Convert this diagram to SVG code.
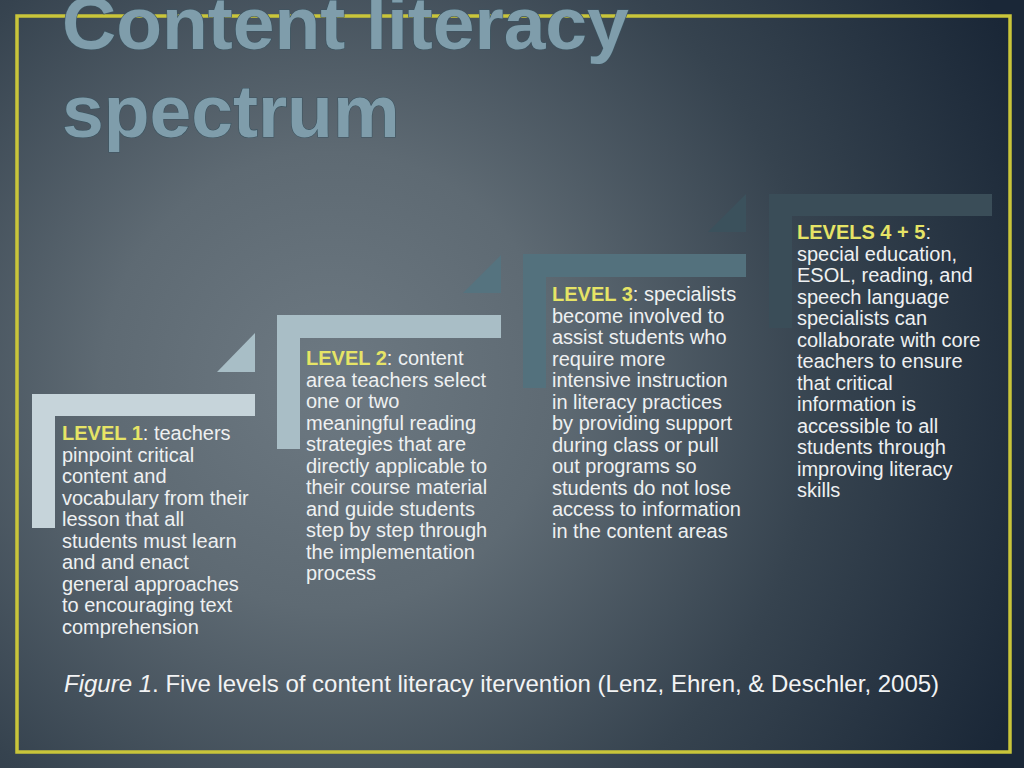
<svg xmlns="http://www.w3.org/2000/svg" width="1024" height="768" viewBox="0 0 1024 768">
  <defs>
    <radialGradient id="bg" gradientUnits="userSpaceOnUse" cx="330" cy="380" r="760">
      <stop offset="0" stop-color="#6d7982"/>
      <stop offset="0.3" stop-color="#5e6a73"/>
      <stop offset="0.65" stop-color="#36434f"/>
      <stop offset="1" stop-color="#1a2737"/>
    </radialGradient>
    <style>
      .title { font-family: "Liberation Sans", Arial, sans-serif; font-weight: bold; font-size: 75px; fill: #7f9dab; stroke: #3d5561; stroke-width: 1.2; paint-order: stroke; }
      .body { font-family: "Liberation Sans", Arial, sans-serif; font-size: 20px; fill: #eef0f1; }
      .lvl { fill: #e6e466; font-weight: bold; }
      .cap { font-family: "Liberation Sans", Arial, sans-serif; font-size: 24px; fill: #f2f3f4; }
      .border { fill: none; stroke: #c9c53a; stroke-width: 3.5; }
    </style>
  </defs>

  <rect x="0" y="0" width="1024" height="768" fill="url(#bg)"/>
  <rect class="border" x="17" y="16" width="993" height="736"/>

  <g id="title">
    <text class="title" x="62" y="49">Content literacy</text>
    <text class="title" x="62" y="137">spectrum</text>
  </g>

  <g id="level1">
    <polygon points="217,372 255,333 255,372" fill="#a8bec6"/>
    <path d="M32,394 H255 V416 H55 V528 H32 Z" fill="#c6d4da"/>
    <text class="body" x="62" y="440">
      <tspan class="lvl">LEVEL 1</tspan>: teachers
      <tspan x="62" dy="21.5">pinpoint critical</tspan>
      <tspan x="62" dy="21.5">content and</tspan>
      <tspan x="62" dy="21.5">vocabulary from their</tspan>
      <tspan x="62" dy="21.5">lesson that all</tspan>
      <tspan x="62" dy="21.5">students must learn</tspan>
      <tspan x="62" dy="21.5">and and enact</tspan>
      <tspan x="62" dy="21.5">general approaches</tspan>
      <tspan x="62" dy="21.5">to encouraging text</tspan>
      <tspan x="62" dy="21.5">comprehension</tspan>
    </text>
  </g>

  <g id="level2">
    <polygon points="463,293 501,255 501,293" fill="#55737f"/>
    <path d="M277,315 H501 V338 H300 V449 H277 Z" fill="#a9bec6"/>
    <text class="body" x="306" y="365">
      <tspan class="lvl">LEVEL 2</tspan>: content
      <tspan x="306" dy="21.5">area teachers select</tspan>
      <tspan x="306" dy="21.5">one or two</tspan>
      <tspan x="306" dy="21.5">meaningful reading</tspan>
      <tspan x="306" dy="21.5">strategies that are</tspan>
      <tspan x="306" dy="21.5">directly applicable to</tspan>
      <tspan x="306" dy="21.5">their course material</tspan>
      <tspan x="306" dy="21.5">and guide students</tspan>
      <tspan x="306" dy="21.5">step by step through</tspan>
      <tspan x="306" dy="21.5">the implementation</tspan>
      <tspan x="306" dy="21.5">process</tspan>
    </text>
  </g>

  <g id="level3">
    <polygon points="708,232 746,194 746,232" fill="#3b515c"/>
    <path d="M523,254 H746 V277 H546 V388 H523 Z" fill="#53717d"/>
    <text class="body" x="552" y="301">
      <tspan class="lvl">LEVEL 3</tspan>: specialists
      <tspan x="552" dy="21.5">become involved to</tspan>
      <tspan x="552" dy="21.5">assist students who</tspan>
      <tspan x="552" dy="21.5">require more</tspan>
      <tspan x="552" dy="21.5">intensive instruction</tspan>
      <tspan x="552" dy="21.5">in literacy practices</tspan>
      <tspan x="552" dy="21.5">by providing support</tspan>
      <tspan x="552" dy="21.5">during class or pull</tspan>
      <tspan x="552" dy="21.5">out programs so</tspan>
      <tspan x="552" dy="21.5">students do not lose</tspan>
      <tspan x="552" dy="21.5">access to information</tspan>
      <tspan x="552" dy="21.5">in the content areas</tspan>
    </text>
  </g>

  <g id="level45">
    <path d="M769,194 H992 V216 H792 V328 H769 Z" fill="#3a4d58"/>
    <text class="body" x="797" y="239">
      <tspan class="lvl">LEVELS 4 + 5</tspan>:
      <tspan x="797" dy="21.5">special education,</tspan>
      <tspan x="797" dy="21.5">ESOL, reading, and</tspan>
      <tspan x="797" dy="21.5">speech language</tspan>
      <tspan x="797" dy="21.5">specialists can</tspan>
      <tspan x="797" dy="21.5">collaborate with core</tspan>
      <tspan x="797" dy="21.5">teachers to ensure</tspan>
      <tspan x="797" dy="21.5">that critical</tspan>
      <tspan x="797" dy="21.5">information is</tspan>
      <tspan x="797" dy="21.5">accessible to all</tspan>
      <tspan x="797" dy="21.5">students through</tspan>
      <tspan x="797" dy="21.5">improving literacy</tspan>
      <tspan x="797" dy="21.5">skills</tspan>
    </text>
  </g>

  <g id="connectors"/>

  <g id="caption">
    <text class="cap" x="64" y="692"><tspan font-style="italic">Figure 1</tspan>. Five levels of content literacy itervention (Lenz, Ehren, &amp; Deschler, 2005)</text>
  </g>
</svg>
